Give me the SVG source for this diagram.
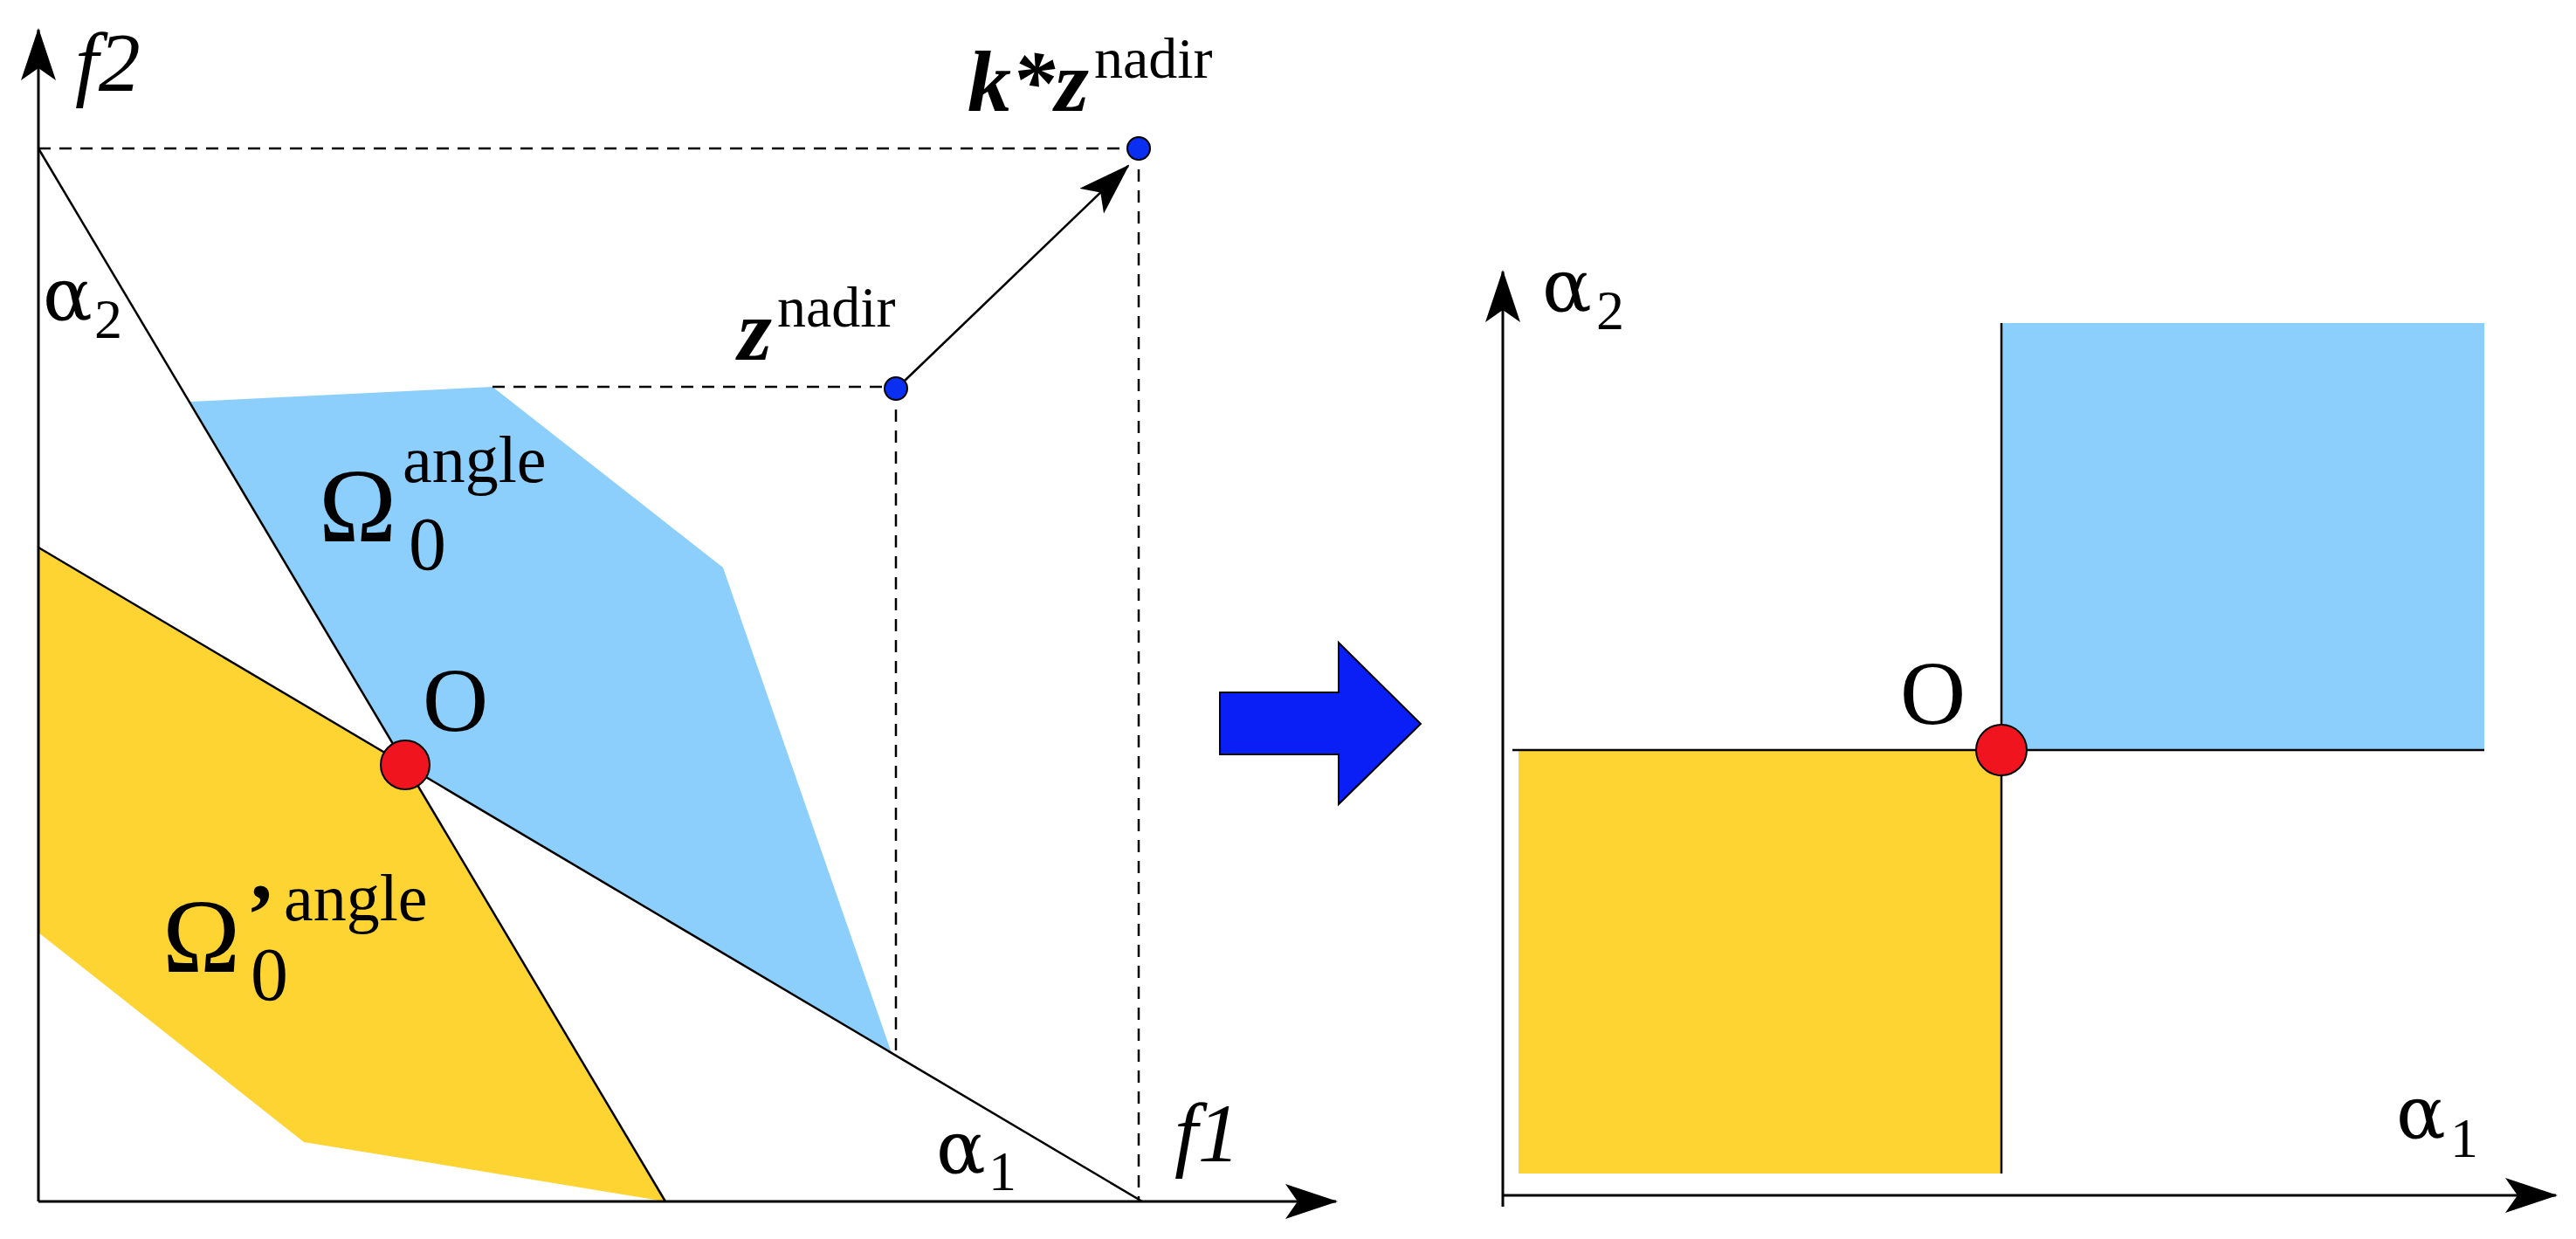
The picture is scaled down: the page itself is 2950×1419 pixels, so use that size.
<svg xmlns="http://www.w3.org/2000/svg" width="2950" height="1419" viewBox="0 0 2950 1419">
<style>
.ax{stroke:#000;stroke-width:3;fill:none}
.ln{stroke:#000;stroke-width:2.5;fill:none}
.ds{stroke:#000;stroke-width:2.5;fill:none;stroke-dasharray:14 10}
.t{font-family:"Liberation Serif","DejaVu Serif",serif;fill:#000}
.g{font-family:"DejaVu Serif","Liberation Serif",serif;fill:#000}
.i{font-style:italic}
</style>
<defs>
<marker id="ah2" markerWidth="60" markerHeight="40" refX="58" refY="20" orient="auto" markerUnits="userSpaceOnUse">
<path d="M0,0 L60,20 L0,40 L14,20 Z" fill="#000"/>
</marker>
</defs>
<rect width="2950" height="1419" fill="#fff"/>
<g id="regions-left">
<polygon points="218,460 564,443 828,650 1021,1206 464,876" fill="#8ccffc"/>
<polygon points="44,627 464,876 762,1376 348,1308 44,1068" fill="#fdd431"/>
</g>
<g id="connectors">
<line class="ax" x1="44" y1="1376" x2="44" y2="34" marker-end="url(#ah2)"/>
<line class="ax" x1="44" y1="1376" x2="1530" y2="1376" marker-end="url(#ah2)"/>
<line class="ds" x1="44" y1="170" x2="1304" y2="170"/>
<line class="ds" x1="1304" y1="170" x2="1304" y2="1376"/>
<line class="ds" x1="564" y1="443" x2="1026" y2="443"/>
<line class="ds" x1="1026" y1="445" x2="1026" y2="1206"/>
<line class="ln" x1="44" y1="170" x2="762" y2="1376"/>
<line class="ln" x1="44" y1="627" x2="1308" y2="1376"/>
<line class="ln" x1="1036" y1="436" x2="1292" y2="190" marker-end="url(#ah2)"/>
<line class="ax" x1="1721" y1="1382" x2="1721" y2="311" marker-end="url(#ah2)"/>
<line class="ax" x1="1721" y1="1369" x2="2927" y2="1369" marker-end="url(#ah2)"/>
</g>
<g id="nodes-left">
<circle id="kz" cx="1304" cy="170" r="13" fill="#0a2ff0" stroke="#000" stroke-width="2"/>
<circle id="z" cx="1026" cy="445" r="13" fill="#0a2ff0" stroke="#000" stroke-width="2"/>
<circle id="O1" cx="464" cy="876" r="28" fill="#f0141e" stroke="#000" stroke-width="2"/>
</g>
<g id="labels-left">
<text class="t i" x="86" y="104" font-size="96">f2</text>
<text class="t i" x="1345" y="1330" font-size="96">f1</text>
<text class="t" x="1108" y="127"><tspan class="i" font-size="100" font-weight="bold">k*z</tspan><tspan font-size="66" dy="-38" dx="6">nadir</tspan></text>
<text class="t" x="845" y="412"><tspan class="i" font-size="100" font-weight="bold">z</tspan><tspan font-size="66" dy="-38" dx="6">nadir</tspan></text>
<text class="g" x="49" y="367" font-size="84">α</text>
<text class="t" x="108" y="387" font-size="64">2</text>
<text class="g" x="1072" y="1344" font-size="84">α</text>
<text class="t" x="1132" y="1363" font-size="64">1</text>
<text class="t" x="365" y="620" font-size="120">Ω</text>
<text class="t" x="461" y="552" font-size="76">angle</text>
<text class="t" x="468" y="652" font-size="86">0</text>
<text class="t" x="186" y="1113" font-size="120">Ω</text>
<text class="t" x="282" y="1080" font-size="100" font-weight="bold">’</text>
<text class="t" x="325" y="1054" font-size="76">angle</text>
<text class="t" x="287" y="1145" font-size="86">0</text>
<text class="t" x="484" y="837" font-size="104">O</text>
</g>
<g id="transform-arrow">
<polygon points="1397,793 1533,793 1533,736 1627,829 1533,921 1533,864 1397,864" fill="#0a1ff5" stroke="#000" stroke-width="2"/>
</g>
<g id="regions-right">
<rect x="2292" y="370" width="553" height="489" fill="#8ccffc"/>
<rect x="1739" y="859" width="553" height="485" fill="#fdd431"/>
<line class="ln" x1="2292" y1="370" x2="2292" y2="1344"/>
<line class="ln" x1="1732" y1="859" x2="2845" y2="859"/>
<circle id="O2" cx="2292" cy="859" r="29" fill="#f0141e" stroke="#000" stroke-width="2"/>
</g>
<g id="labels-right">
<text class="g" x="1766" y="357" font-size="84">α</text>
<text class="t" x="1828" y="377" font-size="64">2</text>
<text class="g" x="2744" y="1304" font-size="84">α</text>
<text class="t" x="2806" y="1325" font-size="64">1</text>
<text class="t" x="2176" y="829" font-size="104">O</text>
</g>
</svg>
